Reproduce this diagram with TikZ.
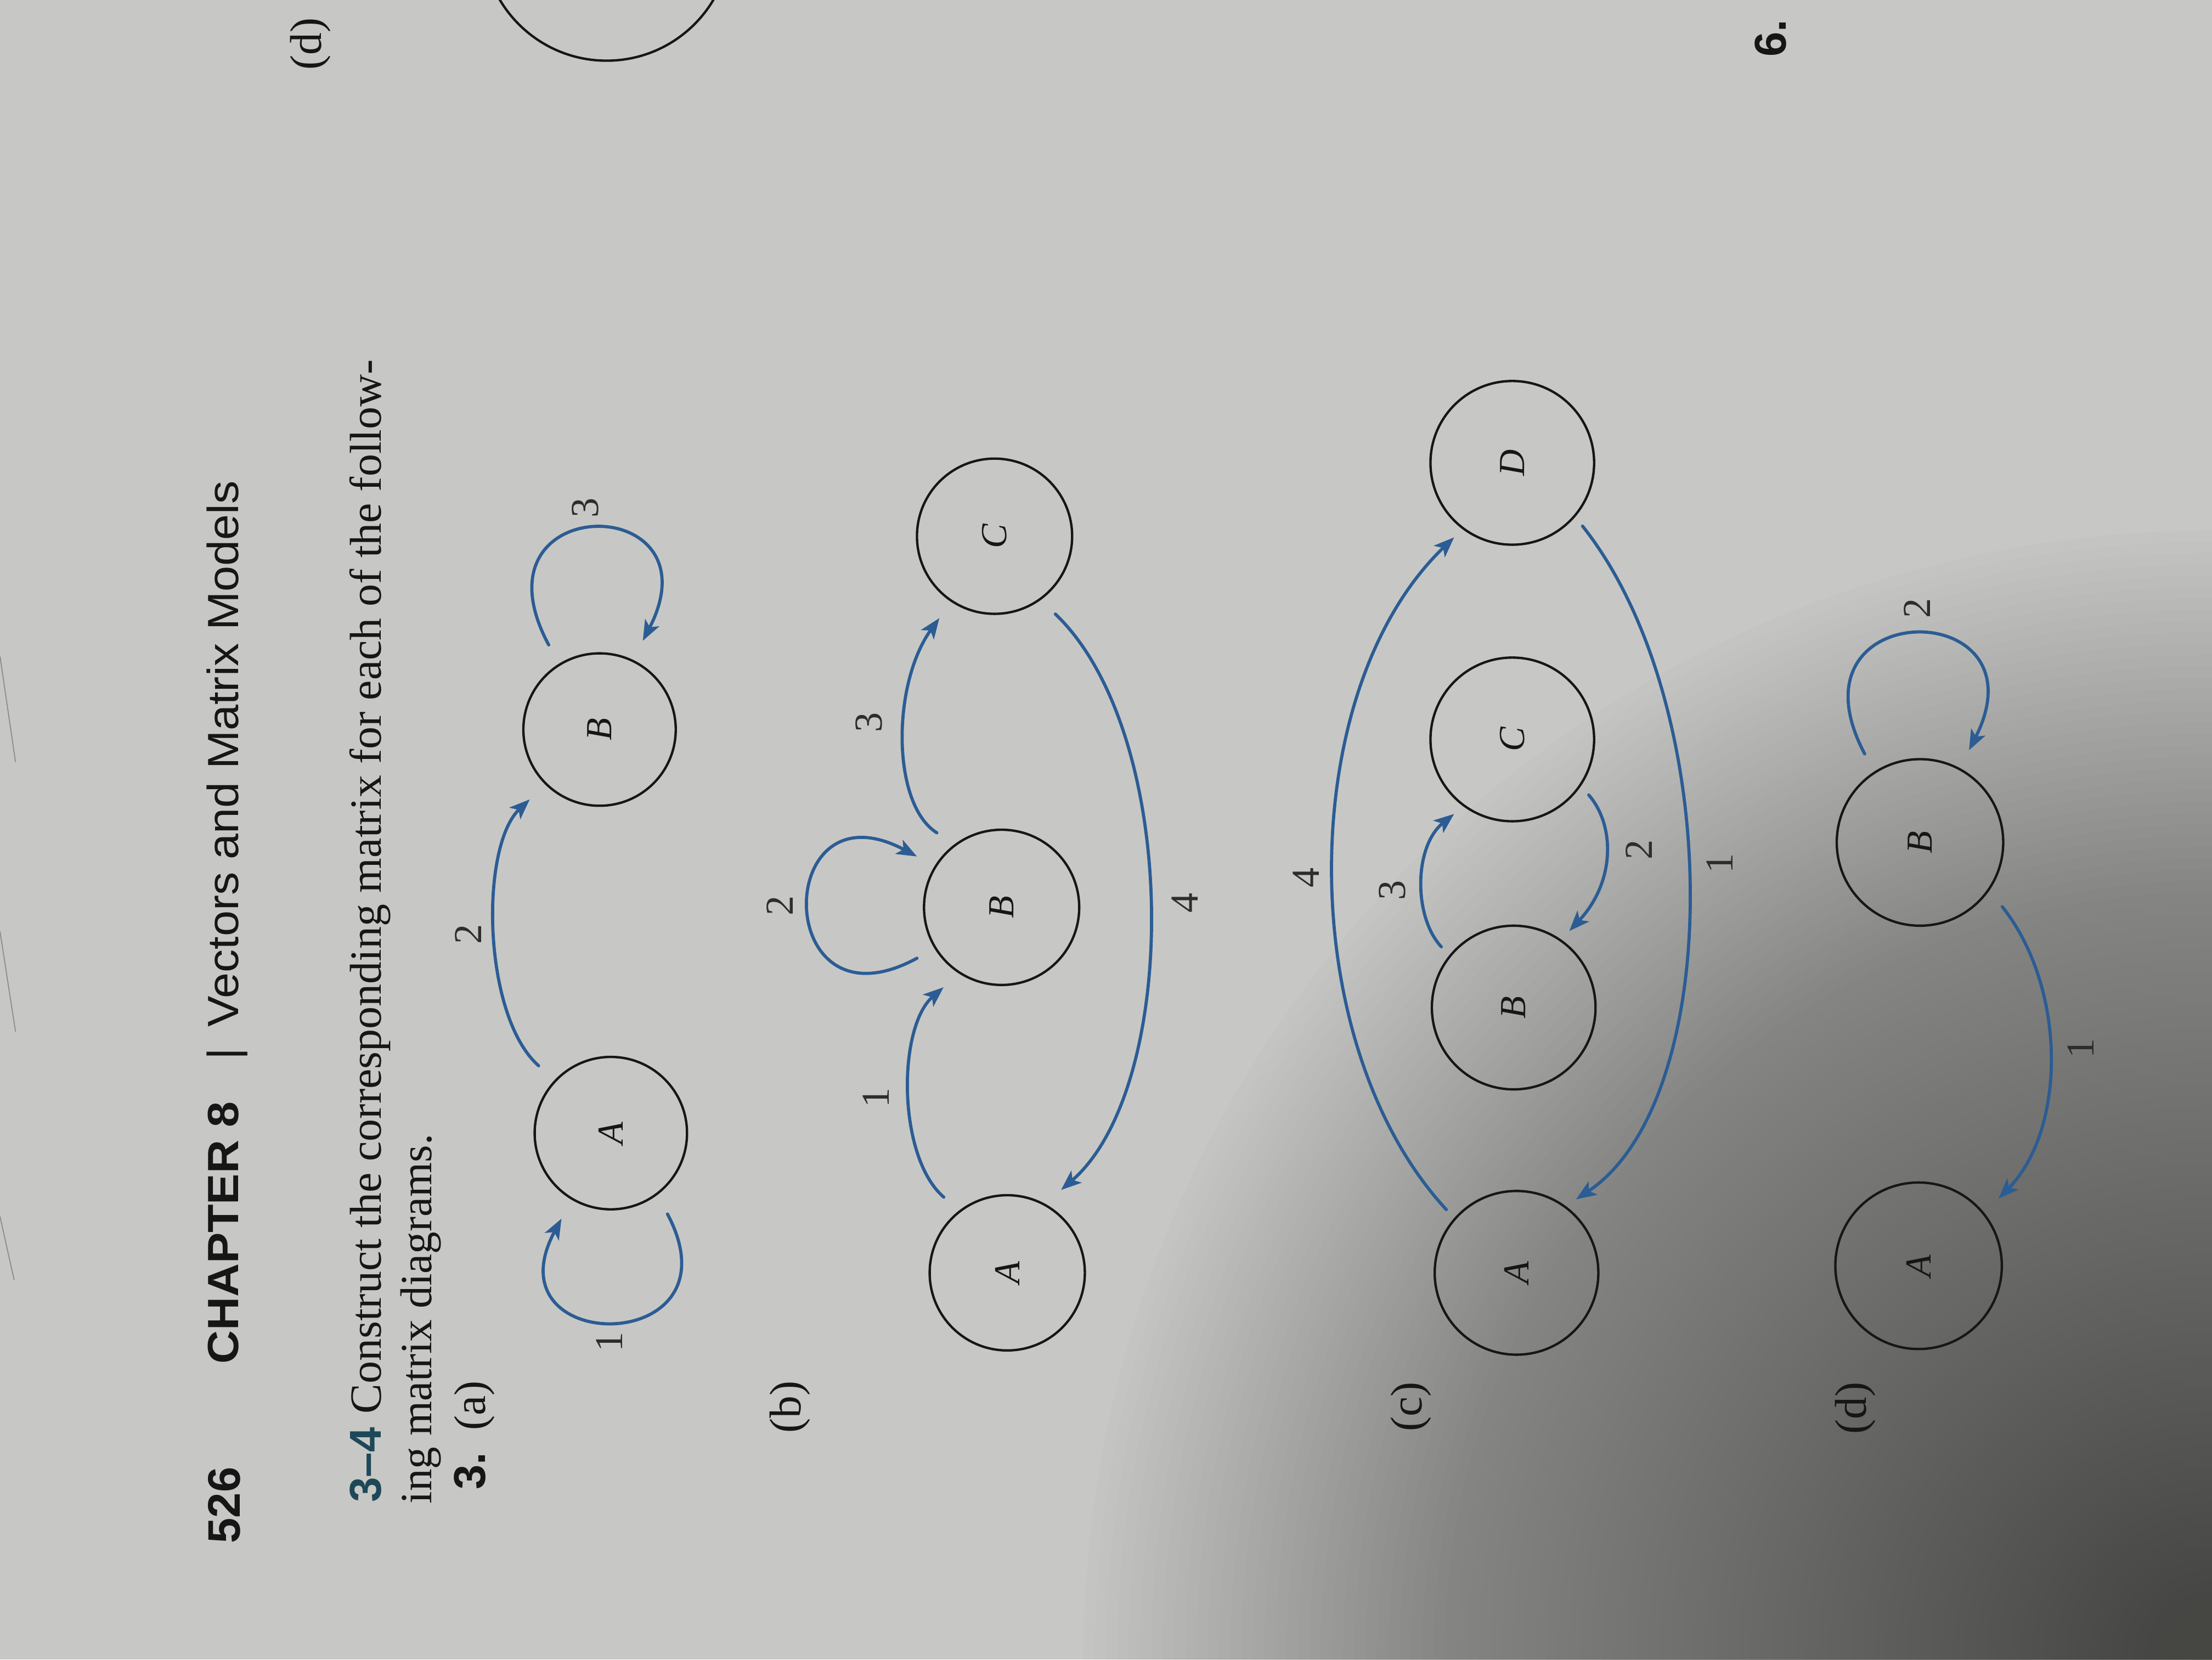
\documentclass[tikz,border=0pt]{standalone}
\usepackage{fontspec}
\setmainfont{Liberation Serif}
\setsansfont{Liberation Sans}
\usetikzlibrary{arrows.meta}
\definecolor{paper}{RGB}{199,200,197}
\definecolor{shadowc}{RGB}{70,70,67}
\definecolor{inkblue}{RGB}{44,92,148}
\definecolor{headteal}{RGB}{30,72,88}
\definecolor{ink}{RGB}{22,22,22}
\begin{document}
\begin{tikzpicture}[x=0.25mm, y=-0.25mm,
  state/.style={circle, draw=ink, line width=1.2pt, inner sep=0pt, text=ink,
    font=\fontsize{18.5}{20}\selectfont\itshape},
  sa/.style={state, minimum size=27mm, outer sep=4mm},
  sb/.style={state, minimum size=27.5mm, outer sep=3.75mm},
  sc/.style={state, minimum size=29mm, outer sep=2.25mm},
  sd/.style={state, minimum size=29.5mm, outer sep=3.75mm},
  link/.style={draw=inkblue, line width=1.6pt, line cap=round,
    -{Stealth[length=3.6mm, width=2.8mm, inset=0.9mm]}},
  lbl/.style={rotate=90, text=ink!90, inner sep=0pt, font=\fontsize{20}{22}\selectfont},
  txt/.style={rotate=90, text=ink, inner sep=0pt, font=\fontsize{22.5}{26}\selectfont},
]
\useasboundingbox (0,0) rectangle (1568,1176);
\begin{scope}
  \clip (0,0) rectangle (1568,1176);
  \fill[paper] (0,0) rectangle (1568,1176);
  \foreach \r in {8,16,...,800} {
    \fill[shadowc, opacity=0.017] (1568,1176) circle (\r);
  }
  \draw[black!45, line width=0.5pt] (0,465) -- (11,540) (0,660) -- (11,731) (0,862) -- (10,907);
  % partial circle of the neighbouring column
  \draw[ink, line width=1.2pt] (430,-45) circle (88);
\end{scope}

% ---------- header and problem text ----------
\node[txt, anchor=base west, font=\sffamily\bfseries\fontsize{23}{26}\selectfont] (pnum) at (170,1094) {526};
\node[txt, anchor=base west, font=\sffamily\fontsize{22}{26}\selectfont] (head) at (169,967)
  {\resizebox{156.5mm}{\height}{\textbf{CHAPTER 8}\hspace{0.9em}|\hspace{0.45em}Vectors and Matrix Models}};
\node[txt, anchor=base west] (l1) at (270,1065)
  {\resizebox{202.5mm}{\height}{{\sffamily\bfseries\color{headteal}3--4}\hspace{0.3em}Construct the corresponding matrix for each of the follow-}};
\node[txt, anchor=base west] (l2) at (306,1066) {\resizebox{65.5mm}{\height}{ing matrix diagrams.}};
\node[txt, anchor=base west, font=\sffamily\bfseries\fontsize{22.5}{26}\selectfont] (p3) at (344,1056) {3.};
\node[txt, anchor=base west] (pa) at (344,1014) {(a)};
\node[txt] (pb) at (560,997) {(b)};
\node[txt] (pc) at (1000,997) {(c)};
\node[txt] (pd) at (1315,998) {(d)};
\node[txt] (topd) at (220,31) {(d)};
\node[txt, font=\sffamily\bfseries\fontsize{22.5}{26}\selectfont] (six) at (1255,27) {6.};

% ---------- (a) ----------
\node[sa] (aA) at (433,803) {\rotatebox{90}{A}};
\node[sa] (aB) at (425,517) {\rotatebox{90}{B}};
\draw[link] (aB.121.8) .. controls (330,347) and (511,347) .. (aB.64.1);
\draw[link] (aA.-55.9) .. controls (527,962) and (345,962) .. (aA.-120);
\draw[link] (aA.137.4) .. controls (342,720) and (340,600) .. (aB.225.6);
\node[lbl] (la3) at (415,360) {3};
\node[lbl] (la1) at (432,951) {1};
\node[lbl] (la2) at (332,662) {2};

% ---------- (b) ----------
\node[sb] (bC) at (705,380) {\rotatebox{90}{C}};
\node[sb] (bB) at (710,643) {\rotatebox{90}{B}};
\node[sb] (bA) at (714,902) {\rotatebox{90}{A}};
\draw[link] (bB.211.5) .. controls (547,735) and (547,552) .. (bB.149.2);
\draw[link] (bA.130.9) .. controls (636,820) and (636,728) .. (bB.234.7);
\draw[link] (bB.131.4) .. controls (632,570) and (632,485) .. (bC.236.3);
\draw[link] (bC.-52.3) .. controls (837,520) and (837,770) .. (bA.57.4);
\node[lbl] (lb2) at (553,642) {2};
\node[lbl] (lb1) at (621,778) {1};
\node[lbl] (lb3) at (616,512) {3};
\node[lbl] (lb4) at (840,640) {4};

% ---------- (c) ----------
\node[sc] (cD) at (1072,328) {\rotatebox{90}{D}};
\node[sc] (cC) at (1072,524) {\rotatebox{90}{C}};
\node[sc] (cB) at (1073,714) {\rotatebox{90}{B}};
\node[sc] (cA) at (1075,902) {\rotatebox{90}{A}};
\draw[link] (cB.140.5) .. controls (1002,650) and (1002,600) .. (cC.232.1);
\draw[link] (cC.-36) .. controls (1145,585) and (1145,625) .. (cB.54.6);
\draw[link] (cA.138.1) .. controls (917,740) and (917,490) .. (cD.232.4);
\draw[link] (cD.-42.7) .. controls (1223,500) and (1223,780) .. (cA.51.9);
\node[lbl] (lc3) at (987,631) {3};
\node[lbl] (lc2) at (1162,602) {2};
\node[lbl] (lc1) at (1219,612) {1};
\node[lbl] (lc4) at (926,622) {4};

% ---------- (d) ----------
\node[sd] (dB) at (1361,597) {\rotatebox{90}{B}};
\node[sd] (dA) at (1360,897) {\rotatebox{90}{A}};
\draw[link] (dB.122.5) .. controls (1262,421) and (1452,421) .. (dB.62.4);
\draw[link] (dB.-38.8) .. controls (1465,700) and (1465,800) .. (dA.40.6);
\node[lbl] (ld2) at (1359,431) {2};
\node[lbl] (ld1) at (1475,743) {1};
\end{tikzpicture}
\end{document}
